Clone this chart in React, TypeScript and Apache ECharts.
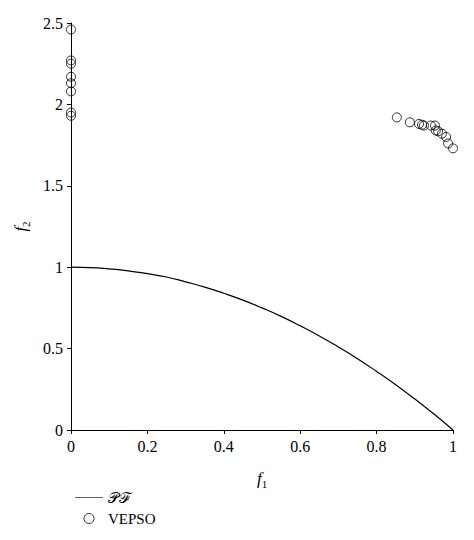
import React, { useEffect, useRef } from "react";
import * as echarts from "echarts";

const pfF1 = [0, 0.05, 0.1, 0.15, 0.2, 0.25, 0.3, 0.35, 0.4, 0.45, 0.5, 0.55, 0.6, 0.65, 0.7, 0.75, 0.8, 0.85, 0.9, 0.95, 1];
const pfF2 = [1, 0.998, 0.99, 0.978, 0.96, 0.94, 0.91, 0.878, 0.84, 0.798, 0.75, 0.698, 0.64, 0.578, 0.51, 0.438, 0.36, 0.278, 0.19, 0.098, 0];

const vepsoF1 = [0, 0, 0, 0, 0, 0, 0, 0, 0.853, 0.887, 0.911, 0.919, 0.924, 0.942, 0.953, 0.955, 0.961, 0.971, 0.982, 0.987, 1.0];
const vepsoF2 = [2.46, 2.27, 2.25, 2.17, 2.13, 2.08, 1.95, 1.93, 1.92, 1.89, 1.88, 1.875, 1.87, 1.87, 1.87, 1.84, 1.835, 1.82, 1.8, 1.76, 1.73];

const xTicks = ["0", "0.2", "0.4", "0.6", "0.8", "1"];
const yTicks = ["0", "0.5", "1", "1.5", "2", "2.5"];

const FONT = "'Liberation Serif', 'DejaVu Serif', serif";

export default function App() {
  const ref = useRef<HTMLDivElement>(null);
  useEffect(() => {
    if (!ref.current) return;
    const chart = echarts.init(ref.current, undefined, { renderer: "svg" });
    const pf = pfF1.map((x, i) => [x, pfF2[i]]);
    const ve = vepsoF1.map((x, i) => [x, vepsoF2[i]]);
    const nameRich = {
      i: { fontFamily: FONT, fontStyle: "italic", fontSize: 17, color: "#000" },
      s: { fontFamily: FONT, fontSize: 11, color: "#000", padding: [10, 0, 0, 0] },
    };
    chart.setOption({
      animation: false,
      backgroundColor: "#fff",
      textStyle: { fontFamily: FONT },
      grid: { left: 71, right: 21, top: 23, bottom: 110, containLabel: false },
      xAxis: {
        type: "value",
        min: 0,
        max: 1,
        interval: 0.2,
        name: "{i|f}{s|1}",
        nameLocation: "middle",
        nameGap: 38,
        nameTextStyle: { rich: nameRich },
        axisLine: { show: true, lineStyle: { color: "#000", width: 1 } },
        axisTick: { show: true, inside: false, length: 4, lineStyle: { color: "#000" } },
        axisLabel: {
          color: "#000",
          fontFamily: FONT,
          fontSize: 16,
          margin: 8,
          formatter: (v: number) => xTicks[Math.round(v / 0.2)] ?? "",
        },
        splitLine: { show: false },
      },
      yAxis: {
        type: "value",
        min: 0,
        max: 2.5,
        interval: 0.5,
        name: "{i|f}{s|2}",
        nameLocation: "middle",
        nameGap: 40,
        nameRotate: 90,
        nameTextStyle: { rich: nameRich },
        axisLine: { show: true, lineStyle: { color: "#000", width: 1 } },
        axisTick: { show: true, inside: false, length: 4, lineStyle: { color: "#000" } },
        axisLabel: {
          color: "#000",
          fontFamily: FONT,
          fontSize: 16,
          margin: 8,
          formatter: (v: number) => yTicks[Math.round(v / 0.5)] ?? "",
        },
        splitLine: { show: false },
      },
      legend: {
        orient: "vertical",
        left: 70,
        top: 485,
        itemGap: 6,
        itemWidth: 28,
        itemHeight: 10,
        textStyle: { fontFamily: FONT, fontSize: 15, color: "#000" },
        data: [
          { name: "𝒫ℱ", icon: "path://M0,5 L28,5 L28,5.6 L0,5.6 Z", itemStyle: { color: "#000" } },
          {
            name: "VEPSO",
            icon: "circle",
            itemStyle: { color: "rgba(0,0,0,0)", borderColor: "#000", borderWidth: 1 },
          },
        ],
      },
      series: [
        {
          name: "𝒫ℱ",
          type: "line",
          data: pf,
          smooth: true,
          symbol: "none",
          lineStyle: { color: "#000", width: 1.2 },
          itemStyle: { color: "#000" },
        },
        {
          name: "VEPSO",
          type: "scatter",
          data: ve,
          symbol: "circle",
          symbolSize: 9,
          itemStyle: { color: "rgba(0,0,0,0)", borderColor: "#000", borderWidth: 1 },
        },
      ],
    });
    return () => chart.dispose();
  }, []);
  return <div ref={ref} style={{ width: 474, height: 540, position: "absolute", left: 0, top: 0 }} />;
}
